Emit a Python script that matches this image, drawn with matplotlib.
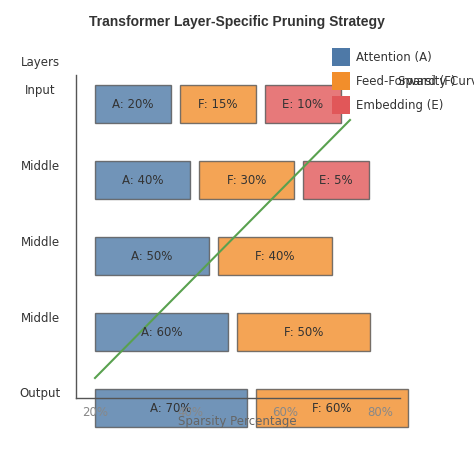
import matplotlib
matplotlib.use("Agg")
import matplotlib.pyplot as plt
from matplotlib.patches import Rectangle

layers = ["Input", "Middle", "Middle", "Middle", "Output"]
attention = [20, 40, 50, 60, 70]
feedforward = [15, 30, 40, 50, 60]
embedding = [10, 5, None, None, None]
x_ticks = ["20%", "40%", "60%", "80%"]
curve_x = [0, 1]
curve_y = [0, 1]

colors = {"A": "#4e79a7", "F": "#f28e2b", "E": "#e15759"}
names = {"A": "Attention (A)", "F": "Feed-Forward (F)", "E": "Embedding (E)"}
offsets = {"A": 1, "F": 2, "E": 3}
mins = {"A": 4, "F": 4, "E": 3}

fig = plt.figure(figsize=(4.74, 4.74), dpi=100)
ax = fig.add_axes([0, 0, 1, 1])
ax.set_xlim(0, 474); ax.set_ylim(474, 0); ax.axis("off")

def width(key, v):
    return 19 * max(mins[key], v / 10 + offsets[key])

ax.text(237, 22, "Transformer Layer-Specific Pruning Strategy", ha="center", va="center",
        fontsize=10, fontweight="bold", color="#333333", family="Liberation Sans")
ax.text(40, 62, "Layers", ha="center", va="center", fontsize=8.5, color="#333333")
ax.plot([76, 76], [75, 398], color="#555555", lw=1)
ax.plot([76, 400], [398, 398], color="#555555", lw=1)

for i, lab in enumerate(layers):
    yc = 104 + 76 * i
    ax.text(40, yc - 14, lab, ha="center", va="center", fontsize=8.5, color="#333333")
    x = 95
    for key, vals in (("A", attention), ("F", feedforward), ("E", embedding)):
        v = vals[i]
        if v is None:
            continue
        w = width(key, v)
        ax.add_patch(Rectangle((x, yc - 19), w, 38, facecolor=colors[key], alpha=0.8,
                               edgecolor="#555555", lw=1))
        ax.text(x + w / 2, yc, f"{key}: {v}%", ha="center", va="center", fontsize=8.5,
                color="#333333")
        x += w + 9

for j, t in enumerate(x_ticks):
    ax.text(95 + 95 * j, 412, t, ha="center", va="center", fontsize=8.5, color="#888888")
ax.text(237, 422, "Sparsity Percentage", ha="center", va="center", fontsize=8.5, color="#666666")

ax.plot([95 + 255 * c for c in curve_x], [378 - 258 * c for c in curve_y],
        color="#59a14f", lw=1.5)

for k, key in enumerate(["A", "F", "E"]):
    y0 = 48 + 24 * k
    ax.add_patch(Rectangle((332, y0), 18, 18, facecolor=colors[key], edgecolor="none"))
    ax.text(356, y0 + 9, names[key], ha="left", va="center", fontsize=8.5, color="#333333")
ax.text(398, 81, "Sparsity Curve", ha="left", va="center", fontsize=8.5, color="#333333")

fig.savefig("out.png", dpi=100)
